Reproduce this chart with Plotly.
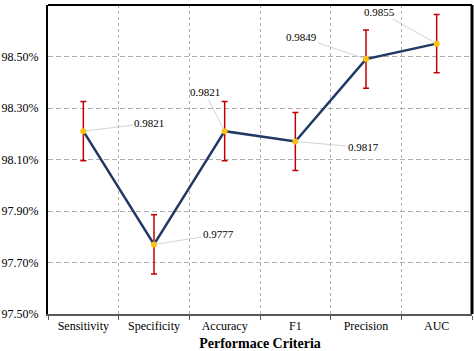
import plotly.graph_objects as go

categories = ["Sensitivity", "Specificity", "Accuracy", "F1", "Precision", "AUC"]
values = [98.21, 97.77, 98.21, 98.17, 98.49, 98.55]
errors = [0.115, 0.115, 0.115, 0.113, 0.113, 0.113]
labels = ["0.9821", "0.9777", "0.9821", "0.9817", "0.9849", "0.9855"]
label_offsets = [(66, -8), (64, -10), (-20, -39), (68, 6), (-65, -22), (-57, -32)]

FONT = "Liberation Serif"

fig = go.Figure()
fig.add_trace(go.Scatter(
    x=categories, y=values, mode="lines+markers",
    line=dict(color="#1F3864", width=2.5),
    marker=dict(color="#FFC000", size=6),
    error_y=dict(type="data", array=errors, color="#C00000", thickness=1.5, width=3),
    showlegend=False,
))

for c, v, t, (ax, ay) in zip(categories, values, labels, label_offsets):
    fig.add_annotation(x=c, y=v, text=t, showarrow=True, arrowhead=0,
                       arrowwidth=0.8, arrowcolor="#C8C8C8", ax=ax, ay=ay,
                       font=dict(family=FONT, size=11, color="black"))

fig.update_layout(
    width=474, height=351,
    margin=dict(l=48, r=2, t=5, b=37),
    paper_bgcolor="white", plot_bgcolor="white",
    font=dict(family=FONT, size=11, color="black"),
    xaxis=dict(
        type="category", tickson="boundaries", automargin=False,
        showgrid=True, gridcolor="#AFAFAF", griddash="3px,3px", gridwidth=1,
        showline=True, linecolor="#595959", linewidth=1.5,
        ticks="outside", ticklen=4, tickcolor="#595959",
        tickfont=dict(family=FONT, size=12),
        title=dict(text="<b>Performace Criteria</b>", standoff=14,
                   font=dict(family=FONT, size=14)),
        range=[-0.5, 5.5],
    ),
    yaxis=dict(
        range=[97.5, 98.7], dtick=0.2, tick0=97.5, automargin=False,
        tickformat=".2f", ticksuffix="%", ticklabelstandoff=5,
        showgrid=True, gridcolor="#AFAFAF", griddash="5px,3px", gridwidth=1,
        showline=True, linecolor="black", linewidth=2,
        zeroline=False, ticks="",
        tickfont=dict(family=FONT, size=12),
    ),
    shapes=[
        dict(type="line", xref="paper", yref="paper", x0=0, x1=1, y0=1, y1=1,
             line=dict(color="black", width=2)),
        dict(type="line", xref="paper", yref="paper", x0=1, x1=1, y0=0, y1=1,
             line=dict(color="black", width=3)),
    ],
)

fig.write_html("out.html")
